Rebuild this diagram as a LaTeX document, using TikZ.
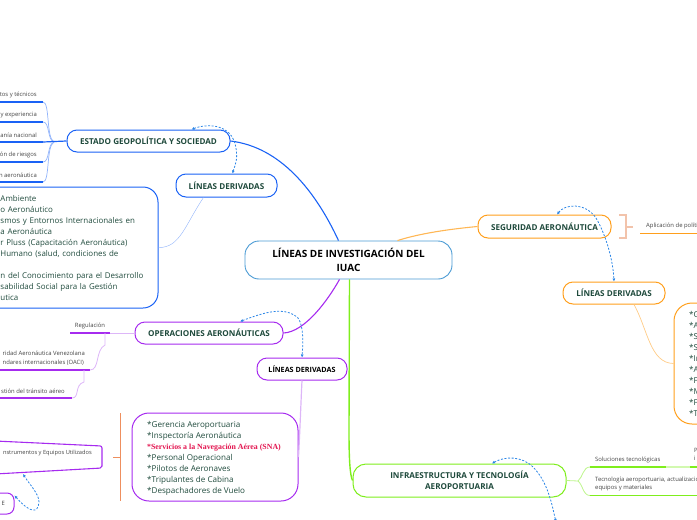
\documentclass[tikz,border=0pt]{standalone}
\usepackage{fontspec}
\setmainfont{Open Sans}
\newfontfamily\serifbold{Liberation Serif}[Scale=0.97]
\definecolor{inkgreen}{HTML}{1F4A3C}
\definecolor{greytext}{HTML}{444444}
\definecolor{rootblue}{HTML}{4A9BD4}
\definecolor{geoblue}{HTML}{1A62F5}
\definecolor{geolight}{HTML}{92B4FB}
\definecolor{opsviolet}{HTML}{A62BEF}
\definecolor{opslight}{HTML}{DDB6F8}
\definecolor{segorange}{HTML}{FF9F1C}
\definecolor{seglight}{HTML}{FFCB85}
\definecolor{infgreen}{HTML}{7FEE1D}
\definecolor{inflight}{HTML}{BDF58C}
\definecolor{dashblue}{HTML}{2A85E6}
\definecolor{brackdark}{HTML}{EE8F5E}
\definecolor{bracklight}{HTML}{F2C3AB}
\definecolor{snared}{HTML}{E2134E}
\tikzset{
  topic/.style={draw, line width=1pt, fill=white, rounded corners=10pt, font=\fontsize{8.1}{11}\selectfont\bfseries, text=inkgreen, align=center, inner sep=0pt},
  body/.style={font=\fontsize{8.1}{11}\selectfont, text=inkgreen, align=left, inner sep=0pt, anchor=west},
  small/.style={font=\fontsize{5.9}{8.7}\selectfont, text=greytext, align=left, inner sep=0pt},
  link/.style={dashed, dash pattern=on 2pt off 1.6pt, dashblue, line width=0.8pt, {Latex[length=3pt,width=3pt]}-{Latex[length=3pt,width=3pt]}},
}
\usetikzlibrary{arrows.meta}
\begin{document}
\begin{tikzpicture}[x=1pt,y=-1pt]
  \useasboundingbox (0,0) rectangle (697,520);
  \clip (0,0) rectangle (697,520);

  % centre
  \node[draw=rootblue, line width=0.9pt, fill=white, rounded corners=14pt, minimum width=207pt, minimum height=38pt, align=center, inner sep=0pt, font=\fontsize{10}{14}\selectfont\bfseries, text=black] (root) at (348.5,260) {LÍNEAS DE INVESTIGACIÓN DEL\\IUAC};

  % estado
  \node[topic, draw=geoblue, minimum width=163pt, minimum height=22pt] (estado) at (148.5,141) {ESTADO GEOPOLÍTICA Y SOCIEDAD};
  \node[topic, draw=geoblue, minimum width=101pt, minimum height=23pt] (lineasA) at (226.5,185.5) {LÍNEAS DERIVADAS};
  \node[draw=geoblue, line width=1pt, rounded corners=15pt, minimum width=208pt, minimum height=121pt, inner sep=0pt] (cajaA) at (54,247.5) {};
  \node[body, text width=155pt, font=\fontsize{7.95}{11}\selectfont] (textoA) at (0.3,248.5) {Ambiente\\o Aeronáutico\\smos y Entornos Internacionales en\\a Aeronáutica\\r Pluss (Capacitación Aeronáutica)\\Humano (salud, condiciones de\\\mbox{}\\n del Conocimiento para el Desarrollo\\sabilidad Social para la Gestión\\utica};
  \draw[geoblue, line width=1.1pt] (estado.east) .. controls (280,147) and (315,190) .. ([xshift=-10pt]root.north);
  \draw[geolight] ([xshift=-23pt]lineasA.south) .. controls (185,225) and (180,248) .. (cajaA.east);
  \draw[link] ([xshift=43pt]estado.north) .. controls (205,124) and (232,122) .. (236,148) .. controls (238,160) and (235,165) .. ([xshift=6pt]lineasA.north);

  \node[small, anchor=east] (itemA) at (37,95) {tos y técnicos};
  \node[small, anchor=east] (itemB) at (37,115) {y experiencia};
  \node[small, anchor=east] (itemC) at (37,135) {anía nacional};
  \node[small, anchor=east] (itemD) at (37,155) {ón de riesgos};
  \node[small, anchor=east] (itemE) at (37,175) {n aeronáutica};
  \coordinate (juntaA) at (54,142);
  \coordinate (finA) at (43,102);
  \coordinate (finB) at (43,122);
  \coordinate (finC) at (43,142);
  \coordinate (finD) at (43,162);
  \coordinate (finE) at (43,182);
  \draw[geolight, line width=0.7pt] (juntaA) .. controls (46,138) and (50,102) .. (finA);
  \draw[geolight, line width=0.7pt] (juntaA) .. controls (47,140) and (50,122) .. (finB);
  \draw[geolight, line width=0.7pt] (juntaA) .. controls (47,144) and (50,162) .. (finD);
  \draw[geolight, line width=0.7pt] (juntaA) .. controls (46,146) and (50,182) .. (finE);
  \draw[geoblue, line width=1.2pt] (-1,102) -- (finA);
  \draw[geoblue, line width=1.2pt] (-1,122) -- (finB);
  \draw[geoblue, line width=1.2pt] (-1,142) -- (finC);
  \draw[geoblue, line width=1.2pt] (-1,162) -- (finD);
  \draw[geoblue, line width=1.2pt] (-1,182) -- (finE);
  \draw[geoblue, line width=1.2pt] (finC) -- (estado.west);

  % operaciones
  \node[topic, draw=opsviolet, minimum width=148pt, minimum height=22pt] (opera) at (209,333) {OPERACIONES AERONÁUTICAS};
  \node[topic, draw=opsviolet, text=black, font=\fontsize{7.2}{10}\selectfont\bfseries, minimum width=90pt, minimum height=22pt] (lineasB) at (302,369) {LÍNEAS DERIVADAS};
  \node[draw=opsviolet, line width=1pt, rounded corners=17pt, minimum width=166pt, minimum height=88pt, inner sep=0pt] (cajaB) at (215,457) {};
  \node[body] (textoB) at (147,458) {*Gerencia Aeroportuaria\\*Inspectoría Aeronáutica\\{\serifbold\bfseries\color{snared}*Servicios a la Navegación Aérea (SNA)}\\*Personal Operacional\\*Pilotos de Aeronaves\\*Tripulantes de Cabina\\*Despachadores de Vuelo};
  \draw[opsviolet, line width=1.1pt] (opera.east) .. controls (305,332) and (328,300) .. ([xshift=-9pt]root.south);
  \draw[opslight, line width=1.2pt] (lineasB.south) .. controls (301,400) and (300,430) .. (cajaB.east);
  \draw[link] ([xshift=31pt]opera.north) .. controls (265,312) and (285,306) .. (298,318) .. controls (304,326) and (303,345) .. (lineasB.north);

  \node[small] (regula) at (90,326) {Regulación};
  \node[small, anchor=east] (vene) at (85,358.5) {ridad Aeronáutica Venezolana\\ndares internacionales (OACI)};
  \node[small, anchor=east] (transito) at (65,391) {stión del tránsito aéreo};
  \coordinate (finR) at (110,333);
  \coordinate (finV) at (90,370);
  \coordinate (finT) at (72,398);
  \draw[opslight, line width=1pt] (finR) -- (opera.west);
  \draw[opsviolet, line width=1.2pt] (70,333) -- (finR);
  \draw[opslight, line width=0.8pt] (105,333) -- (105,345) .. controls (95,350) and (100,370) .. (finV);
  \draw[opsviolet, line width=1.2pt] (-1,370) -- (finV);
  \draw[opslight, line width=0.8pt] (84,370) -- (84,382) .. controls (74,385) and (80,398) .. (finT);
  \draw[opsviolet, line width=1.2pt] (-1,398) -- (finT);

  \draw[brackdark, line width=0.8pt] (120,413) -- (120,501);
  \draw[brackdark, line width=0.8pt] (113,457) -- (120,457);
  \coordinate (picoI) at (23,474);
  \draw[opsviolet, line width=1.1pt, rounded corners=2pt] (-5,441) -- (102,446) -- (102,468) -- (-5,474);
  \node[small, anchor=east, font=\fontsize{5.7}{8.7}\selectfont] (instru) at (92,453) {nstrumentos y Equipos Utilizados};
  \node[topic, draw=opsviolet, minimum width=30pt, minimum height=21pt, rounded corners=7pt] (cuadro) at (-1,503.5) {};
  \node[small, anchor=east] (cuadroT) at (5,503.5) {E};
  \draw[link] ([yshift=8pt]cuadro.east) .. controls (30,513) and (38,514) .. (39,502) .. controls (39,494) and (30,485) .. (picoI);

  % seguridad
  \node[topic, draw=segorange, minimum width=133pt, minimum height=23pt] (segur) at (544.5,226.5) {SEGURIDAD AERONÁUTICA};
  \node[topic, draw=segorange, minimum width=102pt, minimum height=22pt] (lineasC) at (614,293) {LÍNEAS DERIVADAS};
  \node[draw=segorange, line width=1pt, rounded corners=18pt, minimum width=90pt, minimum height=121pt, inner sep=0pt] (cajaC) at (719,363.5) {};
  \node[body, align=left] (textoC) at (689,363.5) {*G\\*A\\*S\\*S\\*In\\*A\\*F\\*M\\*F\\*T};
  \draw[segorange!75, line width=1.1pt] (segur.west) .. controls (440,230) and (415,235) .. ([xshift=49pt]root.north);
  \draw[seglight, line width=0.7pt] ([xshift=20pt]lineasC.south) .. controls (648,330) and (650,363) .. (cajaC.west);
  \draw[link] ([xshift=12.5pt]segur.north) .. controls (565,204) and (585,202) .. (596,218) .. controls (606,235) and (613,260) .. (lineasC.north);
  \draw[bracklight, line width=1.1pt] (619,215) -- (626,215) -- (626,238) -- (619,238);
  \draw[bracklight, line width=1.1pt] (626,227) -- (633,227);
  \node[small, anchor=west] (aplica) at (646,226) {Aplicación de políticas};
  \draw[segorange, line width=1.2pt] (640,233.5) -- (698,233.5);

  % infraestructura
  \node[topic, draw=infgreen, minimum width=213pt, minimum height=33pt, rounded corners=13pt] (infra) at (459.5,480.5) {INFRAESTRUCTURA Y TECNOLOGÍA\\AEROPORTUARIA};
  \draw[infgreen, line width=1.4pt] ([xshift=1pt]root.south) -- (349,430) .. controls (349,460) and (350,475) .. (infra.west);
  \draw[link] ([xshift=32.5pt]infra.north) .. controls (505,456) and (522,456) .. (533,467) .. controls (548,482) and (552,505) .. (556,522);

  \node[small, anchor=west] (soluc) at (595,460) {Soluciones tecnológicas};
  \node[small, anchor=west] (tecno) at (595,484) {Tecnología aeroportuaria, actualización de\\equipos y materiales};
  \node[small, anchor=west] (tercero) at (694,454.5) {P\\i};
  \coordinate (juntaI) at (578,481);
  \coordinate (finS) at (590,467);
  \coordinate (finM) at (590,495.5);
  \draw[inflight, line width=0.8pt] (infra.east) -- (juntaI);
  \draw[inflight, line width=0.8pt] (juntaI) .. controls (583,477) and (583,467) .. (finS);
  \draw[inflight, line width=0.8pt] (juntaI) .. controls (583,485) and (583,495.5) .. (finM);
  \draw[infgreen, line width=1.2pt] (finS) -- (666,467);
  \draw[infgreen!35, line width=1.2pt] (666,467) -- (690,467);
  \draw[infgreen, line width=1.2pt] (690,467) -- (698,467);
  \draw[infgreen, line width=1.2pt] (finM) -- (698,495.5);
\end{tikzpicture}
\end{document}
